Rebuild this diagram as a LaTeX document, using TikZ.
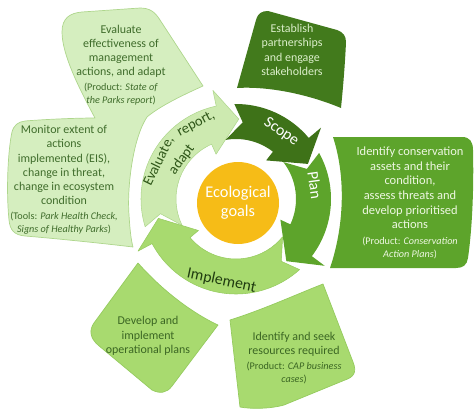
\documentclass[tikz,border=0pt]{standalone}
\usepackage{fontspec}
\setmainfont{Carlito}
\definecolor{paleG}{HTML}{D5EEBF}
\definecolor{paleE}{HTML}{AED68C}
\definecolor{evalG}{HTML}{CDEAB0}
\definecolor{lightG}{HTML}{A8DA6F}
\definecolor{lightE}{HTML}{95CB5E}
\definecolor{midG}{HTML}{5DA42B}
\definecolor{darkG}{HTML}{3E7218}
\definecolor{estG}{HTML}{427A1C}
\definecolor{goldC}{HTML}{F6BC17}
\definecolor{paleT}{HTML}{3F6C2B}
\definecolor{lightT}{HTML}{3B6623}
\definecolor{estT}{HTML}{DCEFCB}
\definecolor{planT}{HTML}{EEF7E2}
\definecolor{implT}{HTML}{203C10}
\definecolor{evalT}{HTML}{2E5618}
\newcommand\prodfont{\fontsize{5.8}{7}\selectfont}
\begin{document}
\begin{tikzpicture}[x=0.02cm, y=-0.02cm, line join=round,
    ptxt/.style={align=center, font=\fontsize{6.8}{8.1}\selectfont},
    rlab/.style={font=\fontsize{9}{10}\selectfont},
    elab/.style={font=\fontsize{8.2}{9}\selectfont, text=evalT, inner sep=0pt}]
\useasboundingbox (0,0) rectangle (474,409);
% outer petals
\filldraw[fill=paleG, draw=paleE, line width=0.4pt] (95,118) .. controls (80,90) and (62,55) .. (62,32)
    .. controls (62,18) and (70,13) .. (82,12) -- (140,8)
    .. controls (150,8) and (155,12) .. (160,20) -- (203,86)
    .. controls (183,95) and (160,106) .. (147,117)
    .. controls (132,140) and (127,190) .. (129,215)
    .. controls (130,230) and (131,240) .. (133,247)
    .. controls (100,243) and (50,238) .. (25,236)
    .. controls (14,235) and (10,230) .. (9,220)
    .. controls (6,190) and (8,150) .. (12,132)
    .. controls (14,125) and (18,122) .. (25,121)
    .. controls (50,119) and (80,118) .. (95,118) -- cycle;
\fill[estG] (237,88) -- (256,20) .. controls (258,13) and (262,11) .. (268,11) -- (337,30)
    .. controls (343,32) and (346,36) .. (346,42)
    .. controls (345,65) and (343,88) .. (341,108)
    .. controls (310,95) and (270,86) .. (237,88) -- cycle;
\fill[midG] (333,137) -- (462,137) .. controls (470,137) and (473,142) .. (473,150)
    .. controls (474,190) and (472,230) .. (468,258)
    .. controls (467,265) and (463,268) .. (456,268) -- (330,268)
    .. controls (343,230) and (347,180) .. (333,137) -- cycle;
\filldraw[fill=lightG, draw=lightE, line width=0.4pt] (230,320) .. controls (262,310) and (295,295) .. (323,284)
    -- (353,362) .. controls (357,372) and (354,377) .. (345,380) -- (284,405)
    .. controls (270,409) and (250,409) .. (240,407) -- cycle;
\filldraw[fill=lightG, draw=lightE, line width=0.4pt] (138,263) .. controls (160,288) and (190,312) .. (218,325)
    -- (172,386) .. controls (167,393) and (160,394) .. (152,390) -- (98,345)
    .. controls (90,338) and (89,330) .. (94,323) -- cycle;
% ring of arrows
\begin{scope}[shift={(236,199)}]
  \filldraw[fill=evalG, draw=paleE, line width=0.3pt] (163:95) arc[start angle=163, end angle=258, radius=95]
      -- (258:111) -- (272:80) -- (246:49) -- (246:60) arc[start angle=246, end angle=154, radius=60]
      -- (169:77) -- cycle;
  \fill[darkG] (269:95) arc[start angle=269, end angle=320, radius=95]
      -- (320:111) -- (334:80) -- (308:49) -- (308:60) arc[start angle=308, end angle=260, radius=60]
      -- (275:77) -- cycle;
  \fill[midG] (331:95) arc[start angle=331, end angle=397, radius=95]
      -- (397:111) -- (411:80) -- (385:49) -- (385:60) arc[start angle=385, end angle=322, radius=60]
      -- (337:77) -- cycle;
  \filldraw[fill=lightG, draw=lightE, line width=0.3pt] (48:95) arc[start angle=48, end angle=152, radius=95]
      -- (152:111) -- (166:80) -- (140:49) -- (140:60) arc[start angle=140, end angle=39, radius=60]
      -- (54:77) -- cycle;
  % ring labels
  \node[elab, rotate=64] (evl1) at (206:86) {Evaluate,};
  \node[elab, rotate=28] (evl2) at (242:85) {report,};
  \node[elab, rotate=54] (evl3) at (216:67) {adapt};
  \node[rlab, text=white, rotate=-34] (scope) at (304:81) {Scope};
  \node[rlab, text=white, rotate=-82] (plan) at (350:80) {Plan};
  \node[rlab, text=implT, rotate=-12] (impl) at (100:83) {Implement};
\end{scope}
\fill[goldC] (238,203) circle (41);
\node[font=\fontsize{9.3}{11}\selectfont, text=white, align=center] (eco) at (238,203) {Ecological\\ goals};
% petal texts
\node[ptxt, text=paleT] (evtxt) at (121,65) {Evaluate\\ effectiveness of\\ management\\ actions, and adapt\\[0.4pt]
    \prodfont(Product: \textit{State of}\\[-0.7pt] \prodfont\textit{the Parks report})};
\node[ptxt, text=paleT] (motxt) at (64,180) {Monitor extent of\\ actions\\ implemented (EIS),\\ change in threat,\\
    change in ecosystem\\ condition\\[0.5pt] \prodfont(Tools: \textit{Park Health Check,}\\[-0.7pt]
    \prodfont\textit{Signs of Healthy Parks})};
\node[ptxt, text=estT] (esttxt) at (292,50) {Establish\\ partnerships\\ and engage\\ stakeholders};
\node[ptxt, text=planT, font=\fontsize{7.1}{8.3}\selectfont] (pltxt) at (410,203) {Identify conservation\\
    assets and their\\ condition,\\ assess threats and\\ develop prioritised\\ actions\\[0.5pt]
    \prodfont(Product: \textit{Conservation}\\[-0.7pt] \prodfont\textit{Action Plans})};
\node[ptxt, text=lightT] (restxt) at (294,358) {Identify and seek\\ resources required\\[0.5pt]
    \prodfont(Product: \textit{CAP business}\\[-0.7pt] \prodfont\textit{cases})};
\node[ptxt, text=lightT] (devtxt) at (148,336) {Develop and\\ implement\\ operational plans};
\end{tikzpicture}
\end{document}
